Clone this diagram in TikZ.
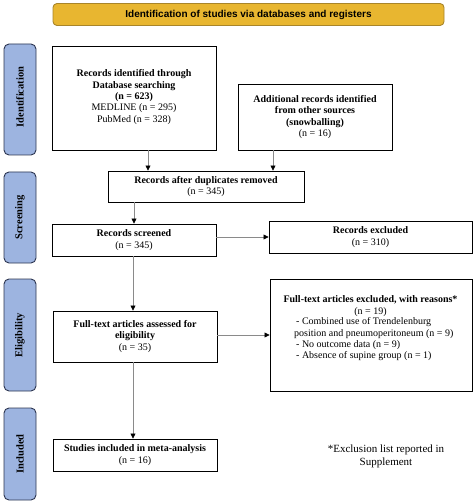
\documentclass[tikz,border=0pt]{standalone}
\usepackage{fontspec}
\setmainfont{Liberation Serif}
\newfontfamily\bannerfont{Liberation Sans}
\usetikzlibrary{arrows.meta}
\definecolor{gold}{HTML}{E8B630}
\definecolor{goldline}{HTML}{A8852A}
\definecolor{sideblue}{HTML}{9DB4E0}
\definecolor{sideline}{HTML}{2C3550}
\definecolor{arrowgray}{HTML}{8A8A8A}
\tikzset{
  box/.style={draw=black, line width=0.9pt, fill=white, align=center, font=\fontsize{10}{11.6}\selectfont, inner sep=0pt},
  plaintext/.style={inner sep=0pt, font=\fontsize{10}{11.3}\selectfont},
  side/.style={draw=sideline, line width=0.9pt, fill=sideblue, rounded corners=5pt},
  sidetext/.style={rotate=90, font=\bfseries\fontsize{10.5}{12}\selectfont},
  flow/.style={draw=arrowgray, line width=0.7pt, -{Triangle[length=5pt,width=5pt,fill=black,color=black]}},
}
\begin{document}
\begin{tikzpicture}[x=1pt,y=-1pt]
\useasboundingbox (0,0) rectangle (474,502);
% banner
\node[draw=goldline, line width=0.9pt, fill=gold, rounded corners=4pt, minimum width=391pt, minimum height=22pt, inner sep=0pt, font=\bannerfont\bfseries\fontsize{10}{12}\selectfont] (banner) at (248.5,14.5) {Identification of studies via databases and registers};
% side labels
\draw[side] (4,44) rectangle (36,155);
\node[sidetext] (sid) at (20,97) {Identification};
\draw[side] (4,172) rectangle (36,263);
\node[sidetext] (ssc) at (20,217.5) {Screening};
\draw[side] (4,279) rectangle (36,391);
\node[sidetext] (sel) at (20,335) {Eligibility};
\draw[side] (4,408) rectangle (36,500);
\node[sidetext] (sin) at (20,454) {Included};
% boxes
\node[box, minimum width=164pt, minimum height=104pt] (db) at (134,98) {};
\node[box, draw=none, fill=none, font=\fontsize{10}{11.3}\selectfont] (dbt) at (134,97) {\textbf{Records identified through}\\\textbf{Database searching}\\\textbf{(n = 623)}\\MEDLINE (n = 295)\\PubMed (n = 328)};
\node[box, minimum width=154pt, minimum height=66pt] (other) at (315,117) {\textbf{Additional records identified}\\\textbf{from other sources}\\\textbf{(snowballing)}\\(n = 16)};
\node[box, minimum width=196pt, minimum height=31pt] (dup) at (206,186.5) {\textbf{Records after duplicates removed}\\(n = 345)};
\node[box, minimum width=164pt, minimum height=32pt] (scr) at (134,240) {\textbf{Records screened}\\(n = 345)};
\node[box, minimum width=203pt, minimum height=32pt] (exc) at (370.5,237) {\textbf{Records excluded}\\(n = 310)};
\node[box, minimum width=164pt, minimum height=51pt] (full) at (135,336.5) {\textbf{Full-text articles assessed for}\\\textbf{eligibility}\\(n = 35)};
\node[box, minimum width=202pt, minimum height=112pt] (fexc) at (371,335) {};
\node[plaintext, align=center] (fexct) at (370.5,306) {\textbf{Full-text articles excluded, with reasons*}\\(n = 19)};
\node[plaintext, align=left, anchor=west] (reasons) at (294,339.5) {\hspace{2pt}- Combined use of Trendelenburg\\position and pneumoperitoneum (n = 9)\\\hspace{2pt}- No outcome data (n = 9)\\\hspace{2pt}- Absence of supine group (n = 1)};
\node[box, minimum width=164pt, minimum height=32pt] (inc) at (135,455) {\textbf{Studies included in meta-analysis}\\(n = 16)};
\node[inner sep=0pt, font=\fontsize{11}{12.7}\selectfont, align=center] (note) at (386,456) {*Exclusion list reported in\\Supplement};
% arrows
\draw[flow] (db.south -| 148,0) -- (dup.north -| 148,0);
\draw[flow] (other.south -| 273,0) -- (dup.north -| 273,0);
\draw[flow] (dup.south -| 134,0) -- (scr.north -| 134,0);
\draw[flow] (scr.east |- 0,237) -- (exc.west |- 0,237);
\draw[flow] (scr.south -| 133,0) -- (full.north -| 133,0);
\draw[flow] (full.east |- 0,335) -- (fexc.west |- 0,335);
\draw[flow] (full.south -| 133,0) -- (inc.north -| 133,0);
\end{tikzpicture}
\end{document}
